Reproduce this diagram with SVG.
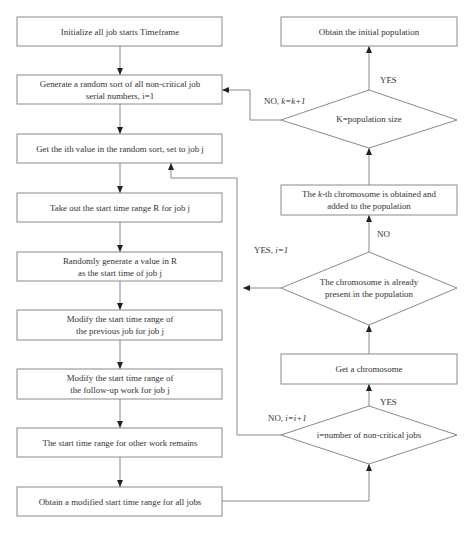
<svg xmlns="http://www.w3.org/2000/svg" width="474" height="533" viewBox="0 0 474 533">
<style>
.box{fill:#fff;stroke:#8a8a8a;stroke-width:1}
.t{font-family:"Liberation Serif",serif;font-size:8.9px;fill:#333;text-anchor:middle}
.l{font-family:"Liberation Serif",serif;font-size:8.9px;fill:#333}
.c{fill:none;stroke:#8a8a8a;stroke-width:1}
</style>
<defs>
<marker id="a" markerWidth="8" markerHeight="8" refX="7" refY="4" orient="auto" markerUnits="userSpaceOnUse">
<path d="M0,1 L7,4 L0,7 Z" fill="#222"/>
</marker>
</defs>
<rect width="474" height="533" fill="#fff"/>
<g id="connectors">
<line class="c" x1="120" y1="46" x2="120" y2="75" marker-end="url(#a)"/>
<line class="c" x1="120" y1="104" x2="120" y2="134" marker-end="url(#a)"/>
<line class="c" x1="120" y1="163" x2="120" y2="193" marker-end="url(#a)"/>
<line class="c" x1="120" y1="222" x2="120" y2="252" marker-end="url(#a)"/>
<line class="c" x1="120" y1="281" x2="120" y2="310" marker-end="url(#a)"/>
<line class="c" x1="120" y1="340" x2="120" y2="369" marker-end="url(#a)"/>
<line class="c" x1="120" y1="399" x2="120" y2="428" marker-end="url(#a)"/>
<line class="c" x1="120" y1="457" x2="120" y2="487" marker-end="url(#a)"/>
<polyline class="c" points="222,501 369,501 369,464" marker-end="url(#a)"/>
<line class="c" x1="369" y1="406" x2="369" y2="384" marker-end="url(#a)"/>
<line class="c" x1="369" y1="354" x2="369" y2="325" marker-end="url(#a)"/>
<line class="c" x1="369" y1="252" x2="369" y2="215" marker-end="url(#a)"/>
<line class="c" x1="369" y1="185" x2="369" y2="148" marker-end="url(#a)"/>
<line class="c" x1="369" y1="90" x2="369" y2="46" marker-end="url(#a)"/>
<line class="c" x1="281" y1="288" x2="243" y2="288" marker-end="url(#a)"/>
<polyline class="c" points="281,120 250,120 250,90 222,90" marker-end="url(#a)"/>
<polyline class="c" points="281,435 237,435 237,178 171,178 171,163" marker-end="url(#a)"/>
<text class="l" x="380" y="83">YES</text>
<text class="l" x="264" y="104">NO, <tspan font-style="italic">k=k+1</tspan></text>
<text class="l" x="377" y="237">NO</text>
<text class="l" x="254" y="253">YES, <tspan font-style="italic">i=1</tspan></text>
<text class="l" x="380" y="405">YES</text>
<text class="l" x="268" y="421">NO, <tspan font-style="italic">i=i+1</tspan></text>
</g>
<g id="n1"><rect class="box" x="17" y="17" width="205" height="29"/><text class="t" x="120" y="34.5">Initialize all job starts Timeframe</text></g>
<g id="n2"><rect class="box" x="17" y="75" width="205" height="29"/><text class="t" x="120" y="87">Generate a random sort of all non-critical job</text><text class="t" x="120" y="98.5">serial numbers, i=1</text></g>
<g id="n3"><rect class="box" x="17" y="134" width="205" height="29"/><text class="t" x="120" y="151.5">Get the ith value in the random sort, set to job j</text></g>
<g id="n4"><rect class="box" x="17" y="193" width="205" height="29"/><text class="t" x="120" y="210.5">Take out the start time range R for job j</text></g>
<g id="n5"><rect class="box" x="17" y="252" width="205" height="29"/><text class="t" x="120" y="264">Randomly generate a value in R</text><text class="t" x="120" y="275.5">as the start time of job j</text></g>
<g id="n6"><rect class="box" x="17" y="310" width="205" height="30"/><text class="t" x="120" y="322">Modify the start time range of</text><text class="t" x="120" y="333.5">the previous job for job j</text></g>
<g id="n7"><rect class="box" x="17" y="369" width="205" height="30"/><text class="t" x="120" y="381">Modify the start time range of</text><text class="t" x="120" y="392.5">the follow-up work for job j</text></g>
<g id="n8"><rect class="box" x="17" y="428" width="205" height="29"/><text class="t" x="120" y="445.5">The start time range for other work remains</text></g>
<g id="n9"><rect class="box" x="17" y="487" width="205" height="29"/><text class="t" x="120" y="504.5">Obtain a modified start time range for all jobs</text></g>
<g id="r1"><rect class="box" x="281" y="17" width="176" height="29"/><text class="t" x="369" y="34.5">Obtain the initial population</text></g>
<g id="r2"><polygon class="box" points="281,120 369,90 457,120 369,148"/><text class="t" x="369" y="122">K=population size</text></g>
<g id="r3"><rect class="box" x="281" y="185" width="176" height="30"/><text class="t" x="369" y="197"><tspan>The </tspan><tspan font-style="italic">k</tspan><tspan>-th chromosome is obtained and</tspan></text><text class="t" x="369" y="208.5">added to the population</text></g>
<g id="r4"><polygon class="box" points="281,288 369,252 457,288 369,325"/><text class="t" x="369" y="285">The chromosome is already</text><text class="t" x="369" y="296.5">present in the population</text></g>
<g id="r5"><rect class="box" x="281" y="354" width="176" height="30"/><text class="t" x="369" y="372">Get a chromosome</text></g>
<g id="r6"><polygon class="box" points="281,435 369,406 457,435 369,464"/><text class="t" x="369" y="438">i=number of non-critical jobs</text></g>
</svg>
